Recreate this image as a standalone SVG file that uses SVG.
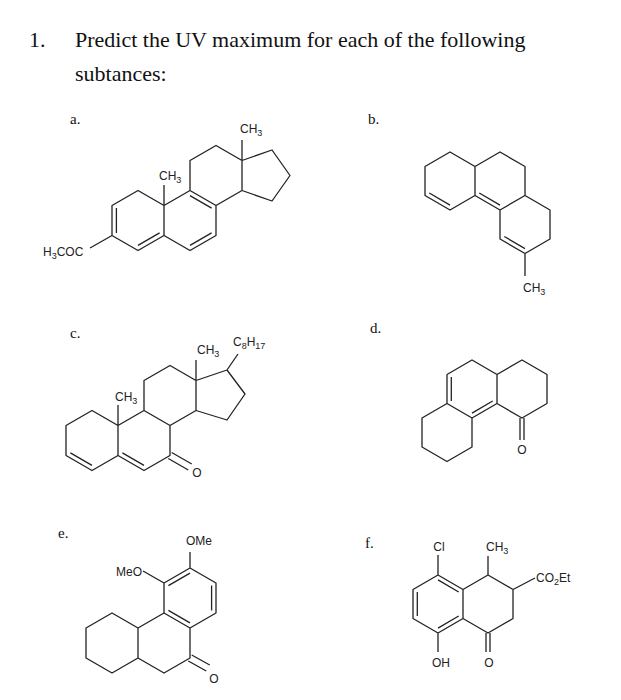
<svg xmlns="http://www.w3.org/2000/svg" width="621" height="700" viewBox="0 0 621 700">
<style>
.b{fill:none;stroke:#222;stroke-width:1.3;stroke-linejoin:round}
.t{font-family:"Liberation Serif",serif;fill:#111}
.c{font-family:"Liberation Sans",sans-serif;font-size:12px;fill:#222}
.s{font-size:9px}
</style>
<rect width="621" height="700" fill="#fff"/>
<g id="title" class="t" font-size="22">
<text x="29" y="47">1.</text>
<text x="75" y="47">Predict the UV maximum for each of the following</text>
<text x="75" y="81">subtances:</text>
</g>
<g id="labels" class="t" font-size="15">
<text x="70" y="124">a.</text><text x="368" y="124">b.</text>
<text x="70" y="338">c.</text><text x="370" y="333">d.</text>
<text x="58" y="538">e.</text><text x="365" y="548">f.</text>
</g>
<g id="a">
<path class="b" d="M138,190.5L164,205.5L164,235.5L138,250.5L112,235.5L112,205.5Z M164,205.5L190,190.5L216,205.5L216,235.5L190,250.5L164,235.5 M190,190.5L190,160.5L216,145.5L242,160.5L242,190.5L216,205.5 M242,160.5L272,150L290,175.5L272,201L242,190.5 M242,160.5L242,140 M164,205.5L164,185 M112,235.5L90,248"/>
<path class="b" d="M116.4,208.1L116.4,232.9 M138,245.4L159.6,232.9 M190,195.6L211.6,208.1 M190,245.4L211.6,232.9"/>
<text class="c" x="240" y="133">CH<tspan class="s" dy="3">3</tspan></text>
<text class="c" x="159" y="180">CH<tspan class="s" dy="3">3</tspan></text>
<text class="c" x="43" y="256">H<tspan class="s" dy="3">3</tspan><tspan dy="-3">COC</tspan></text>
</g>
<g id="b">
<path class="b" d="M450,152L475,166.5L475,195.5L450,210L425,195.5L425,166.5Z M475,166.5L500,152L525,166.5L525,195.5L500,210L475,195.5 M525,195.5L550,210L550,239L525,253.5L500,239L500,210 M525,253.5L525,276"/>
<path class="b" d="M429.3,193L450,205.1 M479.3,193L500,205.1 M504.3,236.5L525,248.6"/>
<text class="c" x="523" y="292">CH<tspan class="s" dy="3">3</tspan></text>
</g>
<g id="c">
<path class="b" d="M92,410.5L118,425.5L118,455.5L92,470.5L66,455.5L66,425.5Z M118,425.5L144,410.5L170,425.5L170,455.5L144,470.5L118,455.5 M144,410.5L144,380.5L170,365.5L196,380.5L196,410.5L170,425.5 M196,380.5L227,370L245,394L227,420L196,410.5 M196,380.5L196,360 M118,425.5L118,405 M227,370L238,354"/>
<path class="b" d="M70.4,452.9L92,465.4 M122.4,452.9L144,465.4 M171.7,452.5L191.7,464 M168.3,458.5L188.3,470"/>
<text class="c" x="197" y="354">CH<tspan class="s" dy="3">3</tspan></text>
<text class="c" x="233" y="346">C<tspan class="s" dy="3">8</tspan><tspan dy="-3">H</tspan><tspan class="s" dy="3">17</tspan></text>
<text class="c" x="115" y="401">CH<tspan class="s" dy="3">3</tspan></text>
<text class="c" x="197" y="477" text-anchor="middle">O</text>
</g>
<g id="d">
<path class="b" d="M472,360L497,374.5L497,403.5L472,418L447,403.5L447,374.5Z M497,374.5L522,360L547,374.5L547,403.5L522,418L497,403.5 M447,403.5L422,418L422,447L447,461.5L472,447L472,418 M520,418L520,440 M524,418L524,440"/>
<path class="b" d="M451.3,377L451.3,401 M472,413.1L492.7,401"/>
<text class="c" x="522" y="454" text-anchor="middle">O</text>
</g>
<g id="e">
<path class="b" d="M190,568L216,583L216,613L190,628L164,613L164,583Z M190,628L190,658L164,673L138,658L138,628L164,613 M138,628L112,613L86,628L86,658L112,673L138,658 M190,568L190,552 M164,583L143,571"/>
<path class="b" d="M168.4,585.6L190,573.1 M211.6,585.6L211.6,610.4 M168.4,610.4L190,622.9 M191.7,655L209.7,665 M188.3,661L206.3,671"/>
<text class="c" x="199" y="545" text-anchor="middle">OMe</text>
<text class="c" x="142" y="576" text-anchor="end">MeO</text>
<text class="c" x="214" y="683" text-anchor="middle">O</text>
</g>
<g id="f">
<path class="b" d="M438,575L463,589.5L463,618.5L438,633L413,618.5L413,589.5Z M463,589.5L488,575L513,589.5L513,618.5L488,633L463,618.5 M438,575L438,555 M488,575L488,556 M513,589.5L535,578 M438,633L438,652 M486,633L486,652 M490,633L490,652"/>
<path class="b" d="M417.3,592L417.3,616 M438,579.9L458.7,592 M438,628.1L458.7,616"/>
<text class="c" x="439" y="551" text-anchor="middle">Cl</text>
<text class="c" x="486" y="551">CH<tspan class="s" dy="3">3</tspan></text>
<text class="c" x="536" y="582">CO<tspan class="s" dy="3">2</tspan><tspan dy="-3">Et</tspan></text>
<text class="c" x="441" y="667" text-anchor="middle">OH</text>
<text class="c" x="489" y="667" text-anchor="middle">O</text>
</g>
</svg>
